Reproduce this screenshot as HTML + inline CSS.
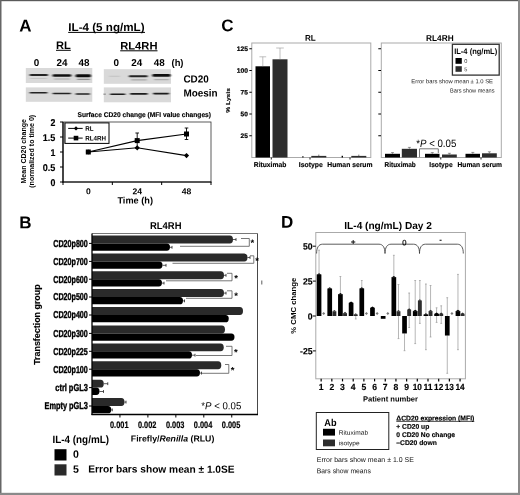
<!DOCTYPE html>
<html lang="en"><head><meta charset="utf-8"><title>Figure</title>
<style>html,body{margin:0;padding:0;background:#fff}svg{display:block}text{font-family:"Liberation Sans",Arial,Helvetica,sans-serif}</style></head>
<body>
<svg width="520" height="495" viewBox="0 0 520 495" font-family="Liberation Sans, Arial, Helvetica, sans-serif">
<defs><filter id="b1" x="-20%" y="-200%" width="140%" height="500%"><feGaussianBlur stdDeviation="0.8 0.55"/></filter><filter id="b2" x="-20%" y="-200%" width="140%" height="500%"><feGaussianBlur stdDeviation="0.7 0.5"/></filter></defs>
<rect x="0.00" y="0.00" width="520.00" height="495.00" fill="#fff"/>
<text x="19.20" y="31.60" font-size="17" font-weight="bold" transform="rotate(0.03 19.20 31.60)">A</text>
<text x="68.30" y="31.00" font-size="11.4" font-weight="bold" textLength="76.30" lengthAdjust="spacingAndGlyphs" transform="rotate(0.03 68.30 31.00)">IL-4 (5 ng/mL)</text>
<line x1="68.20" y1="32.40" x2="145.00" y2="32.40" stroke="#000" stroke-width="1"/>
<text x="56.00" y="49.10" font-size="10.8" font-weight="bold" textLength="14.80" lengthAdjust="spacingAndGlyphs" transform="rotate(0.03 56.00 49.10)">RL</text>
<line x1="56.00" y1="50.30" x2="70.80" y2="50.30" stroke="#000" stroke-width="1"/>
<text x="120.20" y="49.50" font-size="10.8" font-weight="bold" textLength="37.30" lengthAdjust="spacingAndGlyphs" transform="rotate(0.03 120.20 49.50)">RL4RH</text>
<line x1="120.20" y1="50.80" x2="157.50" y2="50.80" stroke="#000" stroke-width="1"/>
<text x="36.40" y="66.00" font-size="9.9" font-weight="bold" text-anchor="middle" transform="rotate(0.03 36.40 66.00)">0</text>
<text x="62.00" y="66.00" font-size="9.9" font-weight="bold" text-anchor="middle" transform="rotate(0.03 62.00 66.00)">24</text>
<text x="83.90" y="66.00" font-size="9.9" font-weight="bold" text-anchor="middle" transform="rotate(0.03 83.90 66.00)">48</text>
<text x="116.25" y="66.00" font-size="9.9" font-weight="bold" text-anchor="middle" transform="rotate(0.03 116.25 66.00)">0</text>
<text x="136.75" y="66.00" font-size="9.9" font-weight="bold" text-anchor="middle" transform="rotate(0.03 136.75 66.00)">24</text>
<text x="159.25" y="66.00" font-size="9.9" font-weight="bold" text-anchor="middle" transform="rotate(0.03 159.25 66.00)">48</text>
<text x="171.50" y="66.10" font-size="9.8" font-weight="bold" textLength="12.00" lengthAdjust="spacingAndGlyphs" transform="rotate(0.03 171.50 66.10)">(h)</text>
<rect x="25.80" y="68.00" width="66.50" height="15.00" fill="#d9d9d9"/>
<rect x="25.80" y="87.40" width="66.50" height="14.40" fill="#d9d9d9"/>
<rect x="103.80" y="69.20" width="67.20" height="14.60" fill="#d9d9d9"/>
<rect x="103.80" y="87.40" width="67.20" height="14.90" fill="#d9d9d9"/>
<rect x="29.50" y="74.05" width="18.50" height="1.90" rx="0.95" fill="#222" opacity="1" filter="url(#b1)"/>
<rect x="52.50" y="74.15" width="18.80" height="2.50" rx="1.25" fill="#111" opacity="1" filter="url(#b1)"/>
<rect x="75.50" y="74.20" width="15.50" height="3.00" rx="1.50" fill="#0a0a0a" opacity="1" filter="url(#b1)"/>
<rect x="54.00" y="78.40" width="16.00" height="1.20" rx="0.60" fill="#777" opacity="0.5" filter="url(#b1)"/>
<rect x="77.00" y="78.80" width="13.00" height="1.20" rx="0.60" fill="#666" opacity="0.6" filter="url(#b1)"/>
<rect x="30.00" y="78.00" width="17.00" height="1.00" rx="0.50" fill="#999" opacity="0.35" filter="url(#b1)"/>
<rect x="29.50" y="92.10" width="18.00" height="1.40" rx="0.70" fill="#222" opacity="1" filter="url(#b1)"/>
<rect x="52.50" y="92.80" width="18.50" height="1.40" rx="0.70" fill="#222" opacity="1" filter="url(#b1)"/>
<rect x="75.50" y="93.35" width="14.50" height="1.50" rx="0.75" fill="#222" opacity="1" filter="url(#b1)"/>
<rect x="109.00" y="75.80" width="11.00" height="1.00" rx="0.50" fill="#aaa" opacity="0.5" filter="url(#b1)"/>
<rect x="128.80" y="75.20" width="18.90" height="2.00" rx="1.00" fill="#222" opacity="1" filter="url(#b1)"/>
<rect x="152.30" y="74.05" width="18.30" height="2.70" rx="1.35" fill="#111" opacity="1" filter="url(#b1)"/>
<rect x="131.00" y="79.20" width="16.00" height="1.20" rx="0.60" fill="#777" opacity="0.5" filter="url(#b1)"/>
<rect x="154.00" y="79.00" width="15.00" height="1.20" rx="0.60" fill="#777" opacity="0.45" filter="url(#b1)"/>
<rect x="103.80" y="93.60" width="1.70" height="1.20" rx="0.60" fill="#333" opacity="1" filter="url(#b1)"/>
<rect x="110.00" y="93.40" width="15.40" height="1.60" rx="0.80" fill="#1a1a1a" opacity="1" filter="url(#b1)"/>
<rect x="130.00" y="93.10" width="17.70" height="1.60" rx="0.80" fill="#1a1a1a" opacity="1" filter="url(#b1)"/>
<rect x="153.00" y="92.80" width="16.20" height="1.60" rx="0.80" fill="#1a1a1a" opacity="1" filter="url(#b1)"/>
<text x="183.40" y="82.40" font-size="10.3" font-weight="bold" textLength="25.30" lengthAdjust="spacingAndGlyphs" transform="rotate(0.03 183.40 82.40)">CD20</text>
<text x="183.40" y="96.40" font-size="10.3" font-weight="bold" textLength="34.20" lengthAdjust="spacingAndGlyphs" transform="rotate(0.03 183.40 96.40)">Moesin</text>
<text x="77.50" y="117.00" font-size="6.9" font-weight="bold" textLength="133.50" lengthAdjust="spacingAndGlyphs" transform="rotate(0.03 77.50 117.00)" stroke="#000" stroke-width="0.15">Surface CD20 change (MFI value changes)</text>
<rect x="63.00" y="122.00" width="148.00" height="60.00" fill="none" stroke="#333" stroke-width="0.8"/>
<line x1="63.00" y1="122.00" x2="63.00" y2="182.50" stroke="#000" stroke-width="1.2"/>
<line x1="62.50" y1="182.00" x2="211.50" y2="182.00" stroke="#000" stroke-width="1.2"/>
<line x1="60.00" y1="122.00" x2="63.00" y2="122.00" stroke="#000" stroke-width="1"/>
<text x="55.40" y="125.90" font-size="9.9" font-weight="bold" text-anchor="end" textLength="4.90" lengthAdjust="spacingAndGlyphs" transform="rotate(0.03 55.40 125.90)" stroke="#000" stroke-width="0.15">2</text>
<line x1="60.00" y1="137.00" x2="63.00" y2="137.00" stroke="#000" stroke-width="1"/>
<text x="55.40" y="140.90" font-size="9.9" font-weight="bold" text-anchor="end" textLength="12.60" lengthAdjust="spacingAndGlyphs" transform="rotate(0.03 55.40 140.90)" stroke="#000" stroke-width="0.15">1.5</text>
<line x1="60.00" y1="152.00" x2="63.00" y2="152.00" stroke="#000" stroke-width="1"/>
<text x="55.40" y="155.90" font-size="9.9" font-weight="bold" text-anchor="end" textLength="4.90" lengthAdjust="spacingAndGlyphs" transform="rotate(0.03 55.40 155.90)" stroke="#000" stroke-width="0.15">1</text>
<line x1="60.00" y1="167.00" x2="63.00" y2="167.00" stroke="#000" stroke-width="1"/>
<text x="55.40" y="170.90" font-size="9.9" font-weight="bold" text-anchor="end" textLength="12.60" lengthAdjust="spacingAndGlyphs" transform="rotate(0.03 55.40 170.90)" stroke="#000" stroke-width="0.15">0.5</text>
<line x1="60.00" y1="182.00" x2="63.00" y2="182.00" stroke="#000" stroke-width="1"/>
<text x="55.40" y="185.90" font-size="9.9" font-weight="bold" text-anchor="end" textLength="4.90" lengthAdjust="spacingAndGlyphs" transform="rotate(0.03 55.40 185.90)" stroke="#000" stroke-width="0.15">0</text>
<line x1="63.00" y1="182.00" x2="63.00" y2="185.00" stroke="#000" stroke-width="1"/>
<line x1="112.33" y1="182.00" x2="112.33" y2="185.00" stroke="#000" stroke-width="1"/>
<line x1="161.67" y1="182.00" x2="161.67" y2="185.00" stroke="#000" stroke-width="1"/>
<line x1="211.00" y1="182.00" x2="211.00" y2="185.00" stroke="#000" stroke-width="1"/>
<polyline points="88.30,152.00 137.20,147.80 186.50,155.60" fill="none" stroke="#000" stroke-width="1.1"/>
<polyline points="88.30,152.00 137.20,140.60 186.50,134.00" fill="none" stroke="#000" stroke-width="1.1"/>
<line x1="137.20" y1="133.00" x2="137.20" y2="148.30" stroke="#000" stroke-width="0.9"/>
<line x1="135.40" y1="133.00" x2="139.00" y2="133.00" stroke="#000" stroke-width="0.9"/>
<line x1="135.40" y1="148.30" x2="139.00" y2="148.30" stroke="#000" stroke-width="0.9"/>
<line x1="186.50" y1="128.00" x2="186.50" y2="139.50" stroke="#000" stroke-width="0.9"/>
<line x1="184.70" y1="128.00" x2="188.30" y2="128.00" stroke="#000" stroke-width="0.9"/>
<line x1="184.70" y1="139.50" x2="188.30" y2="139.50" stroke="#000" stroke-width="0.9"/>
<path d="M85.70 152.00L88.30 149.40L90.90 152.00L88.30 154.60Z" fill="#000"/>
<path d="M134.60 147.80L137.20 145.20L139.80 147.80L137.20 150.40Z" fill="#000"/>
<path d="M183.90 155.60L186.50 153.00L189.10 155.60L186.50 158.20Z" fill="#000"/>
<rect x="85.80" y="149.50" width="5.00" height="5.00" fill="#000"/>
<rect x="134.70" y="138.10" width="5.00" height="5.00" fill="#000"/>
<rect x="184.00" y="131.50" width="5.00" height="5.00" fill="#000"/>
<rect x="65.00" y="122.90" width="44.00" height="20.50" fill="#fff" stroke="#000" stroke-width="1"/>
<line x1="64.00" y1="122.40" x2="64.00" y2="143.40" stroke="#444" stroke-width="1.2"/>
<line x1="68.20" y1="128.40" x2="82.70" y2="128.40" stroke="#000" stroke-width="1"/>
<path d="M73.80 128.40L76.00 126.20L78.20 128.40L76.00 130.60Z" fill="#000"/>
<text x="85.20" y="130.70" font-size="6.6" font-weight="bold" textLength="8.30" lengthAdjust="spacingAndGlyphs" transform="rotate(0.03 85.20 130.70)">RL</text>
<line x1="68.20" y1="138.10" x2="82.70" y2="138.10" stroke="#000" stroke-width="1"/>
<rect x="73.70" y="135.80" width="4.60" height="4.60" fill="#000"/>
<text x="85.20" y="140.50" font-size="6.6" font-weight="bold" textLength="20.80" lengthAdjust="spacingAndGlyphs" transform="rotate(0.03 85.20 140.50)">RL4RH</text>
<text x="88.30" y="194.20" font-size="8.6" font-weight="bold" text-anchor="middle" transform="rotate(0.03 88.30 194.20)">0</text>
<text x="137.20" y="194.20" font-size="8.6" font-weight="bold" text-anchor="middle" transform="rotate(0.03 137.20 194.20)">24</text>
<text x="186.50" y="194.20" font-size="8.6" font-weight="bold" text-anchor="middle" transform="rotate(0.03 186.50 194.20)">48</text>
<text x="135.20" y="203.60" font-size="9.2" font-weight="bold" text-anchor="middle" textLength="35.50" lengthAdjust="spacingAndGlyphs" transform="rotate(0.03 135.20 203.60)">Time (h)</text>
<text x="26.00" y="151.30" font-size="7.4" font-weight="bold" text-anchor="middle" textLength="64.40" lengthAdjust="spacingAndGlyphs" transform="rotate(-90 26.00 151.30)">Mean CD20 change</text>
<text x="33.60" y="151.30" font-size="7.2" font-weight="bold" text-anchor="middle" textLength="73.00" lengthAdjust="spacingAndGlyphs" transform="rotate(-90 33.60 151.30)">(normalized to time 0)</text>
<text x="19.30" y="228.30" font-size="17" font-weight="bold" transform="rotate(0.03 19.30 228.30)">B</text>
<text x="150.00" y="229.00" font-size="10" font-weight="bold" textLength="31.50" lengthAdjust="spacingAndGlyphs" transform="rotate(0.03 150.00 229.00)">RL4RH</text>
<line x1="92.00" y1="233.50" x2="257.50" y2="233.50" stroke="#555" stroke-width="0.8"/>
<line x1="257.50" y1="233.50" x2="257.50" y2="414.50" stroke="#333" stroke-width="0.9"/>
<path d="M92.00 235.50H229.80Q233.00 235.50 233.00 239.45Q233.00 243.40 229.80 243.40H92.00Z" fill="#2a2a2a"/>
<path d="M92.00 243.40H166.80Q170.00 243.40 170.00 247.05Q170.00 250.70 166.80 250.70H92.00Z" fill="#000"/>
<line x1="89.00" y1="243.40" x2="92.00" y2="243.40" stroke="#000" stroke-width="1"/>
<text x="87.80" y="246.90" font-size="10" font-weight="bold" text-anchor="end" textLength="34.50" lengthAdjust="spacingAndGlyphs" transform="rotate(0.03 87.80 246.90)" stroke="#000" stroke-width="0.4">CD20p800</text>
<path d="M92.00 253.50H244.30Q247.50 253.50 247.50 257.45Q247.50 261.40 244.30 261.40H92.00Z" fill="#2a2a2a"/>
<path d="M92.00 261.40H159.30Q162.50 261.40 162.50 265.05Q162.50 268.70 159.30 268.70H92.00Z" fill="#000"/>
<line x1="89.00" y1="261.40" x2="92.00" y2="261.40" stroke="#000" stroke-width="1"/>
<text x="87.80" y="264.90" font-size="10" font-weight="bold" text-anchor="end" textLength="34.50" lengthAdjust="spacingAndGlyphs" transform="rotate(0.03 87.80 264.90)" stroke="#000" stroke-width="0.4">CD20p700</text>
<path d="M92.00 271.30H220.80Q224.00 271.30 224.00 275.25Q224.00 279.20 220.80 279.20H92.00Z" fill="#2a2a2a"/>
<path d="M92.00 279.20H158.80Q162.00 279.20 162.00 282.85Q162.00 286.50 158.80 286.50H92.00Z" fill="#000"/>
<line x1="89.00" y1="279.20" x2="92.00" y2="279.20" stroke="#000" stroke-width="1"/>
<text x="87.80" y="282.70" font-size="10" font-weight="bold" text-anchor="end" textLength="34.50" lengthAdjust="spacingAndGlyphs" transform="rotate(0.03 87.80 282.70)" stroke="#000" stroke-width="0.4">CD20p600</text>
<path d="M92.00 289.10H220.80Q224.00 289.10 224.00 293.05Q224.00 297.00 220.80 297.00H92.00Z" fill="#2a2a2a"/>
<path d="M92.00 297.00H179.80Q183.00 297.00 183.00 300.65Q183.00 304.30 179.80 304.30H92.00Z" fill="#000"/>
<line x1="89.00" y1="297.00" x2="92.00" y2="297.00" stroke="#000" stroke-width="1"/>
<text x="87.80" y="300.50" font-size="10" font-weight="bold" text-anchor="end" textLength="34.50" lengthAdjust="spacingAndGlyphs" transform="rotate(0.03 87.80 300.50)" stroke="#000" stroke-width="0.4">CD20p500</text>
<path d="M92.00 307.10H239.80Q243.00 307.10 243.00 311.05Q243.00 315.00 239.80 315.00H92.00Z" fill="#2a2a2a"/>
<path d="M92.00 315.00H225.55Q228.75 315.00 228.75 318.65Q228.75 322.30 225.55 322.30H92.00Z" fill="#000"/>
<line x1="89.00" y1="315.00" x2="92.00" y2="315.00" stroke="#000" stroke-width="1"/>
<text x="87.80" y="318.50" font-size="10" font-weight="bold" text-anchor="end" textLength="34.50" lengthAdjust="spacingAndGlyphs" transform="rotate(0.03 87.80 318.50)" stroke="#000" stroke-width="0.4">CD20p400</text>
<path d="M92.00 325.50H221.80Q225.00 325.50 225.00 329.45Q225.00 333.40 221.80 333.40H92.00Z" fill="#2a2a2a"/>
<path d="M92.00 333.40H231.30Q234.50 333.40 234.50 337.05Q234.50 340.70 231.30 340.70H92.00Z" fill="#000"/>
<line x1="89.00" y1="333.40" x2="92.00" y2="333.40" stroke="#000" stroke-width="1"/>
<text x="87.80" y="336.90" font-size="10" font-weight="bold" text-anchor="end" textLength="34.50" lengthAdjust="spacingAndGlyphs" transform="rotate(0.03 87.80 336.90)" stroke="#000" stroke-width="0.4">CD20p300</text>
<path d="M92.00 343.40H220.55Q223.75 343.40 223.75 347.35Q223.75 351.30 220.55 351.30H92.00Z" fill="#2a2a2a"/>
<path d="M92.00 351.30H188.80Q192.00 351.30 192.00 354.95Q192.00 358.60 188.80 358.60H92.00Z" fill="#000"/>
<line x1="89.00" y1="351.30" x2="92.00" y2="351.30" stroke="#000" stroke-width="1"/>
<text x="87.80" y="354.80" font-size="10" font-weight="bold" text-anchor="end" textLength="34.50" lengthAdjust="spacingAndGlyphs" transform="rotate(0.03 87.80 354.80)" stroke="#000" stroke-width="0.4">CD20p225</text>
<path d="M92.00 361.30H218.05Q221.25 361.30 221.25 365.25Q221.25 369.20 218.05 369.20H92.00Z" fill="#2a2a2a"/>
<path d="M92.00 369.20H196.80Q200.00 369.20 200.00 372.85Q200.00 376.50 196.80 376.50H92.00Z" fill="#000"/>
<line x1="89.00" y1="369.20" x2="92.00" y2="369.20" stroke="#000" stroke-width="1"/>
<text x="87.80" y="372.70" font-size="10" font-weight="bold" text-anchor="end" textLength="34.50" lengthAdjust="spacingAndGlyphs" transform="rotate(0.03 87.80 372.70)" stroke="#000" stroke-width="0.4">CD20p100</text>
<path d="M92.00 379.70H100.55Q103.75 379.70 103.75 383.65Q103.75 387.60 100.55 387.60H92.00Z" fill="#2a2a2a"/>
<path d="M92.00 387.60H96.30Q99.50 387.60 99.50 391.25Q99.50 394.90 96.30 394.90H92.00Z" fill="#000"/>
<line x1="89.00" y1="387.60" x2="92.00" y2="387.60" stroke="#000" stroke-width="1"/>
<text x="87.80" y="391.10" font-size="10" font-weight="bold" text-anchor="end" textLength="32.50" lengthAdjust="spacingAndGlyphs" transform="rotate(0.03 87.80 391.10)" stroke="#000" stroke-width="0.4">ctrl pGL3</text>
<path d="M92.00 398.10H121.30Q124.50 398.10 124.50 402.05Q124.50 406.00 121.30 406.00H92.00Z" fill="#2a2a2a"/>
<path d="M92.00 406.00H108.05Q111.25 406.00 111.25 409.65Q111.25 413.30 108.05 413.30H92.00Z" fill="#000"/>
<line x1="89.00" y1="406.00" x2="92.00" y2="406.00" stroke="#000" stroke-width="1"/>
<text x="87.80" y="409.50" font-size="10" font-weight="bold" text-anchor="end" textLength="43.30" lengthAdjust="spacingAndGlyphs" transform="rotate(0.03 87.80 409.50)" stroke="#000" stroke-width="0.4">Empty pGL3</text>
<line x1="233.00" y1="239.50" x2="236.00" y2="239.50" stroke="#333" stroke-width="0.8"/>
<line x1="236.00" y1="238.10" x2="236.00" y2="240.90" stroke="#333" stroke-width="0.9"/>
<line x1="170.00" y1="247.30" x2="172.00" y2="247.30" stroke="#333" stroke-width="0.8"/>
<line x1="172.00" y1="245.90" x2="172.00" y2="248.70" stroke="#333" stroke-width="0.9"/>
<line x1="247.50" y1="257.50" x2="250.00" y2="257.50" stroke="#333" stroke-width="0.8"/>
<line x1="250.00" y1="256.10" x2="250.00" y2="258.90" stroke="#333" stroke-width="0.9"/>
<line x1="162.50" y1="265.30" x2="166.00" y2="265.30" stroke="#333" stroke-width="0.8"/>
<line x1="166.00" y1="263.90" x2="166.00" y2="266.70" stroke="#333" stroke-width="0.9"/>
<line x1="224.00" y1="275.30" x2="226.00" y2="275.30" stroke="#333" stroke-width="0.8"/>
<line x1="226.00" y1="273.90" x2="226.00" y2="276.70" stroke="#333" stroke-width="0.9"/>
<line x1="162.00" y1="283.10" x2="164.00" y2="283.10" stroke="#333" stroke-width="0.8"/>
<line x1="164.00" y1="281.70" x2="164.00" y2="284.50" stroke="#333" stroke-width="0.9"/>
<line x1="224.00" y1="293.10" x2="226.00" y2="293.10" stroke="#333" stroke-width="0.8"/>
<line x1="226.00" y1="291.70" x2="226.00" y2="294.50" stroke="#333" stroke-width="0.9"/>
<line x1="183.00" y1="300.90" x2="184.50" y2="300.90" stroke="#333" stroke-width="0.8"/>
<line x1="184.50" y1="299.50" x2="184.50" y2="302.30" stroke="#333" stroke-width="0.9"/>
<line x1="192.00" y1="355.20" x2="195.00" y2="355.20" stroke="#333" stroke-width="0.8"/>
<line x1="195.00" y1="353.80" x2="195.00" y2="356.60" stroke="#333" stroke-width="0.9"/>
<line x1="200.00" y1="373.10" x2="201.50" y2="373.10" stroke="#333" stroke-width="0.8"/>
<line x1="201.50" y1="371.70" x2="201.50" y2="374.50" stroke="#333" stroke-width="0.9"/>
<line x1="103.75" y1="383.70" x2="107.75" y2="383.70" stroke="#333" stroke-width="0.8"/>
<line x1="107.75" y1="382.30" x2="107.75" y2="385.10" stroke="#333" stroke-width="0.9"/>
<line x1="99.50" y1="391.50" x2="103.50" y2="391.50" stroke="#333" stroke-width="0.8"/>
<line x1="103.50" y1="390.10" x2="103.50" y2="392.90" stroke="#333" stroke-width="0.9"/>
<line x1="124.50" y1="402.10" x2="126.00" y2="402.10" stroke="#333" stroke-width="0.8"/>
<line x1="126.00" y1="400.70" x2="126.00" y2="403.50" stroke="#333" stroke-width="0.9"/>
<line x1="111.25" y1="409.90" x2="112.25" y2="409.90" stroke="#333" stroke-width="0.8"/>
<line x1="112.25" y1="408.50" x2="112.25" y2="411.30" stroke="#333" stroke-width="0.9"/>
<path d="M241.00 238.50H249.30V246.30H180.00" fill="none" stroke="#555" stroke-width="0.8"/>
<text x="252.30" y="246.00" font-size="9.5" font-weight="bold" text-anchor="middle" transform="rotate(0.03 252.30 246.00)">*</text>
<path d="M250.00 255.80H253.80V263.30H172.50" fill="none" stroke="#555" stroke-width="0.8"/>
<text x="257.00" y="264.00" font-size="9.5" font-weight="bold" text-anchor="middle" transform="rotate(0.03 257.00 264.00)">*</text>
<path d="M227.00 273.30H232.00V280.80H166.00" fill="none" stroke="#555" stroke-width="0.8"/>
<text x="236.00" y="281.50" font-size="9.5" font-weight="bold" text-anchor="middle" transform="rotate(0.03 236.00 281.50)">*</text>
<path d="M227.00 290.80H232.00V298.30H186.00" fill="none" stroke="#555" stroke-width="0.8"/>
<text x="236.00" y="299.00" font-size="9.5" font-weight="bold" text-anchor="middle" transform="rotate(0.03 236.00 299.00)">*</text>
<path d="M226.00 346.30H232.00V355.50H196.00" fill="none" stroke="#555" stroke-width="0.8"/>
<text x="235.80" y="355.50" font-size="9.5" font-weight="bold" text-anchor="middle" transform="rotate(0.03 235.80 355.50)">*</text>
<path d="M225.00 364.50H228.80V373.30H202.00" fill="none" stroke="#555" stroke-width="0.8"/>
<text x="232.50" y="373.50" font-size="9.5" font-weight="bold" text-anchor="middle" transform="rotate(0.03 232.50 373.50)">*</text>
<line x1="261.80" y1="280.50" x2="261.80" y2="284.50" stroke="#333" stroke-width="0.8"/>
<line x1="92.00" y1="233.50" x2="92.00" y2="415.00" stroke="#000" stroke-width="1.3"/>
<line x1="91.50" y1="414.50" x2="258.00" y2="414.50" stroke="#000" stroke-width="1.3"/>
<line x1="119.95" y1="414.50" x2="119.95" y2="417.50" stroke="#000" stroke-width="1"/>
<text x="119.25" y="428.00" font-size="9.4" font-weight="bold" text-anchor="middle" textLength="18.50" lengthAdjust="spacingAndGlyphs" transform="rotate(0.03 119.25 428.00)" stroke="#000" stroke-width="0.2">0.001</text>
<line x1="147.90" y1="414.50" x2="147.90" y2="417.50" stroke="#000" stroke-width="1"/>
<text x="147.20" y="428.00" font-size="9.4" font-weight="bold" text-anchor="middle" textLength="18.50" lengthAdjust="spacingAndGlyphs" transform="rotate(0.03 147.20 428.00)" stroke="#000" stroke-width="0.2">0.002</text>
<line x1="175.85" y1="414.50" x2="175.85" y2="417.50" stroke="#000" stroke-width="1"/>
<text x="175.15" y="428.00" font-size="9.4" font-weight="bold" text-anchor="middle" textLength="18.50" lengthAdjust="spacingAndGlyphs" transform="rotate(0.03 175.15 428.00)" stroke="#000" stroke-width="0.2">0.003</text>
<line x1="203.80" y1="414.50" x2="203.80" y2="417.50" stroke="#000" stroke-width="1"/>
<text x="203.10" y="428.00" font-size="9.4" font-weight="bold" text-anchor="middle" textLength="18.50" lengthAdjust="spacingAndGlyphs" transform="rotate(0.03 203.10 428.00)" stroke="#000" stroke-width="0.2">0.004</text>
<line x1="231.75" y1="414.50" x2="231.75" y2="417.50" stroke="#000" stroke-width="1"/>
<text x="231.05" y="428.00" font-size="9.4" font-weight="bold" text-anchor="middle" textLength="18.50" lengthAdjust="spacingAndGlyphs" transform="rotate(0.03 231.05 428.00)" stroke="#000" stroke-width="0.2">0.005</text>
<text x="201.30" y="409.30" font-size="10.2" textLength="40.00" lengthAdjust="spacingAndGlyphs" transform="rotate(0.03 201.30 409.30)">*<tspan font-style="italic">P</tspan> &lt; 0.05</text>
<text x="130.80" y="441.50" font-size="8.6" font-weight="bold" textLength="83.50" lengthAdjust="spacingAndGlyphs" transform="rotate(0.03 130.80 441.50)">Firefly/<tspan font-style="italic">Renilla</tspan> (RLU)</text>
<text x="40.30" y="324.60" font-size="9.4" font-weight="bold" text-anchor="middle" textLength="80.50" lengthAdjust="spacingAndGlyphs" transform="rotate(-90 40.30 324.60)" stroke="#000" stroke-width="0.15">Transfection group</text>
<text x="52.50" y="443.20" font-size="10.6" font-weight="bold" textLength="56.50" lengthAdjust="spacingAndGlyphs" transform="rotate(0.03 52.50 443.20)">IL-4 (ng/mL)</text>
<rect x="54.50" y="449.20" width="12.00" height="11.30" fill="#000"/>
<rect x="54.50" y="464.30" width="12.00" height="11.20" fill="#2a2a2a"/>
<text x="73.00" y="457.80" font-size="10.6" font-weight="bold" transform="rotate(0.03 73.00 457.80)">0</text>
<text x="73.00" y="472.70" font-size="10.6" font-weight="bold" transform="rotate(0.03 73.00 472.70)">5</text>
<text x="88.30" y="472.60" font-size="10.3" font-weight="bold" textLength="146.30" lengthAdjust="spacingAndGlyphs" transform="rotate(0.03 88.30 472.60)">Error bars show mean ± 1.0SE</text>
<text x="221.20" y="31.30" font-size="17" font-weight="bold" transform="rotate(0.03 221.20 31.30)">C</text>
<text x="304.90" y="40.80" font-size="8.4" font-weight="bold" textLength="10.80" lengthAdjust="spacingAndGlyphs" transform="rotate(0.03 304.90 40.80)">RL</text>
<text x="426.10" y="40.90" font-size="8.5" font-weight="bold" textLength="27.50" lengthAdjust="spacingAndGlyphs" transform="rotate(0.03 426.10 40.90)">RL4RH</text>
<rect x="251.80" y="43.00" width="119.00" height="114.50" fill="none" stroke="#aaa" stroke-width="1"/>
<rect x="381.30" y="43.00" width="120.00" height="114.50" fill="none" stroke="#aaa" stroke-width="1"/>
<line x1="249.30" y1="135.75" x2="251.80" y2="135.75" stroke="#000" stroke-width="1"/>
<line x1="378.30" y1="135.75" x2="381.00" y2="135.75" stroke="#000" stroke-width="1"/>
<text x="247.90" y="138.05" font-size="6.4" font-weight="bold" text-anchor="end" textLength="7.30" lengthAdjust="spacingAndGlyphs" transform="rotate(0.03 247.90 138.05)" stroke="#000" stroke-width="0.2">25</text>
<line x1="249.30" y1="114.00" x2="251.80" y2="114.00" stroke="#000" stroke-width="1"/>
<line x1="378.30" y1="114.00" x2="381.00" y2="114.00" stroke="#000" stroke-width="1"/>
<text x="247.90" y="116.30" font-size="6.4" font-weight="bold" text-anchor="end" textLength="7.30" lengthAdjust="spacingAndGlyphs" transform="rotate(0.03 247.90 116.30)" stroke="#000" stroke-width="0.2">50</text>
<line x1="249.30" y1="92.25" x2="251.80" y2="92.25" stroke="#000" stroke-width="1"/>
<line x1="378.30" y1="92.25" x2="381.00" y2="92.25" stroke="#000" stroke-width="1"/>
<text x="247.90" y="94.55" font-size="6.4" font-weight="bold" text-anchor="end" textLength="7.30" lengthAdjust="spacingAndGlyphs" transform="rotate(0.03 247.90 94.55)" stroke="#000" stroke-width="0.2">75</text>
<line x1="249.30" y1="70.50" x2="251.80" y2="70.50" stroke="#000" stroke-width="1"/>
<line x1="378.30" y1="70.50" x2="381.00" y2="70.50" stroke="#000" stroke-width="1"/>
<text x="247.90" y="72.80" font-size="6.4" font-weight="bold" text-anchor="end" textLength="11.20" lengthAdjust="spacingAndGlyphs" transform="rotate(0.03 247.90 72.80)" stroke="#000" stroke-width="0.2">100</text>
<line x1="249.30" y1="48.75" x2="251.80" y2="48.75" stroke="#000" stroke-width="1"/>
<line x1="378.30" y1="48.75" x2="381.00" y2="48.75" stroke="#000" stroke-width="1"/>
<text x="247.90" y="51.05" font-size="6.4" font-weight="bold" text-anchor="end" textLength="11.20" lengthAdjust="spacingAndGlyphs" transform="rotate(0.03 247.90 51.05)" stroke="#000" stroke-width="0.2">125</text>
<text x="230.30" y="100.40" font-size="6.2" font-weight="bold" text-anchor="middle" textLength="24.50" lengthAdjust="spacingAndGlyphs" transform="rotate(-90 230.30 100.40)" stroke="#000" stroke-width="0.15">% Lysis</text>
<rect x="255.50" y="66.30" width="14.50" height="91.20" fill="#000"/>
<line x1="262.80" y1="56.80" x2="262.80" y2="66.30" stroke="#8c8c8c" stroke-width="0.55"/>
<line x1="259.40" y1="56.80" x2="266.20" y2="56.80" stroke="#8c8c8c" stroke-width="0.55"/>
<rect x="272.50" y="59.30" width="15.00" height="98.20" fill="#2d2d2d"/>
<line x1="280.00" y1="48.00" x2="280.00" y2="59.30" stroke="#8c8c8c" stroke-width="0.55"/>
<line x1="276.20" y1="48.00" x2="283.80" y2="48.00" stroke="#8c8c8c" stroke-width="0.55"/>
<rect x="302.30" y="156.20" width="1.20" height="1.30" fill="#000"/>
<rect x="311.30" y="155.90" width="15.00" height="1.60" fill="#2d2d2d"/>
<rect x="341.60" y="155.80" width="1.40" height="1.70" fill="#000"/>
<rect x="351.30" y="155.90" width="15.00" height="1.60" fill="#2d2d2d"/>
<line x1="318.80" y1="154.60" x2="318.80" y2="156.00" stroke="#444" stroke-width="0.7"/>
<line x1="358.80" y1="154.60" x2="358.80" y2="156.00" stroke="#444" stroke-width="0.7"/>
<line x1="271.30" y1="157.50" x2="271.30" y2="159.50" stroke="#000" stroke-width="0.9"/>
<line x1="310.00" y1="157.50" x2="310.00" y2="159.50" stroke="#000" stroke-width="0.9"/>
<line x1="350.00" y1="157.50" x2="350.00" y2="159.50" stroke="#000" stroke-width="0.9"/>
<rect x="385.00" y="153.80" width="15.00" height="3.70" fill="#000"/>
<line x1="392.50" y1="152.60" x2="392.50" y2="153.80" stroke="#444" stroke-width="0.55"/>
<line x1="391.00" y1="152.60" x2="394.00" y2="152.60" stroke="#444" stroke-width="0.55"/>
<rect x="401.80" y="148.80" width="15.20" height="8.70" fill="#2d2d2d"/>
<line x1="409.40" y1="147.40" x2="409.40" y2="148.80" stroke="#444" stroke-width="0.55"/>
<line x1="407.90" y1="147.40" x2="410.90" y2="147.40" stroke="#444" stroke-width="0.55"/>
<rect x="425.00" y="153.80" width="14.50" height="3.70" fill="#000"/>
<line x1="432.30" y1="152.60" x2="432.30" y2="153.80" stroke="#444" stroke-width="0.55"/>
<line x1="430.80" y1="152.60" x2="433.80" y2="152.60" stroke="#444" stroke-width="0.55"/>
<rect x="442.00" y="154.50" width="14.80" height="3.00" fill="#2d2d2d"/>
<line x1="449.40" y1="153.30" x2="449.40" y2="154.50" stroke="#444" stroke-width="0.55"/>
<line x1="447.90" y1="153.30" x2="450.90" y2="153.30" stroke="#444" stroke-width="0.55"/>
<rect x="465.50" y="153.80" width="14.50" height="3.70" fill="#000"/>
<line x1="472.80" y1="152.40" x2="472.80" y2="153.80" stroke="#444" stroke-width="0.55"/>
<line x1="471.30" y1="152.40" x2="474.30" y2="152.40" stroke="#444" stroke-width="0.55"/>
<rect x="482.00" y="153.30" width="14.80" height="4.20" fill="#2d2d2d"/>
<line x1="489.40" y1="151.80" x2="489.40" y2="153.30" stroke="#444" stroke-width="0.55"/>
<line x1="487.90" y1="151.80" x2="490.90" y2="151.80" stroke="#444" stroke-width="0.55"/>
<line x1="440.80" y1="157.50" x2="440.80" y2="159.50" stroke="#000" stroke-width="0.9"/>
<line x1="481.00" y1="157.50" x2="481.00" y2="159.50" stroke="#000" stroke-width="0.9"/>
<path d="M419.5 157.2V148.8H438.3V153" fill="none" stroke="#555" stroke-width="0.8"/>
<text x="416.30" y="147.30" font-size="10.6" textLength="40.00" lengthAdjust="spacingAndGlyphs" transform="rotate(0.03 416.30 147.30)">*<tspan font-style="italic">P</tspan> &lt; 0.05</text>
<text x="253.80" y="166.90" font-size="7.1" font-weight="bold" textLength="32.50" lengthAdjust="spacingAndGlyphs" transform="rotate(0.03 253.80 166.90)" stroke="#000" stroke-width="0.15">Rituximab</text>
<text x="298.80" y="166.90" font-size="7.1" font-weight="bold" textLength="24.00" lengthAdjust="spacingAndGlyphs" transform="rotate(0.03 298.80 166.90)" stroke="#000" stroke-width="0.15">Isotype</text>
<text x="327.30" y="166.90" font-size="7.1" font-weight="bold" textLength="45.20" lengthAdjust="spacingAndGlyphs" transform="rotate(0.03 327.30 166.90)" stroke="#000" stroke-width="0.15">Human serum</text>
<text x="384.50" y="166.90" font-size="7.1" font-weight="bold" textLength="31.30" lengthAdjust="spacingAndGlyphs" transform="rotate(0.03 384.50 166.90)" stroke="#000" stroke-width="0.15">Rituximab</text>
<text x="429.30" y="166.90" font-size="7.1" font-weight="bold" textLength="23.30" lengthAdjust="spacingAndGlyphs" transform="rotate(0.03 429.30 166.90)" stroke="#000" stroke-width="0.15">Isotype</text>
<text x="457.50" y="166.90" font-size="7.1" font-weight="bold" textLength="44.50" lengthAdjust="spacingAndGlyphs" transform="rotate(0.03 457.50 166.90)" stroke="#000" stroke-width="0.15">Human serum</text>
<rect x="452.40" y="44.30" width="46.80" height="30.80" fill="#fff" stroke="#333" stroke-width="1.3"/>
<text x="454.20" y="54.00" font-size="8.1" font-weight="bold" textLength="43.00" lengthAdjust="spacingAndGlyphs" transform="rotate(0.03 454.20 54.00)">IL-4 (ng/mL)</text>
<rect x="455.50" y="58.00" width="6.30" height="5.80" fill="#000"/>
<rect x="455.50" y="66.20" width="6.30" height="5.60" fill="#2d2d2d"/>
<text x="464.30" y="63.00" font-size="5.6" transform="rotate(0.03 464.30 63.00)" fill="#333">0</text>
<text x="464.30" y="71.20" font-size="5.6" transform="rotate(0.03 464.30 71.20)" fill="#333">5</text>
<text x="411.30" y="83.30" font-size="5.9" textLength="81.70" lengthAdjust="spacingAndGlyphs" transform="rotate(0.03 411.30 83.30)" fill="#222">Error bars show mean ± 1.0 SE</text>
<text x="450.00" y="92.60" font-size="5.9" textLength="44.50" lengthAdjust="spacingAndGlyphs" transform="rotate(0.03 450.00 92.60)" fill="#222">Bars show means</text>
<text x="281.00" y="227.70" font-size="17" font-weight="bold" transform="rotate(0.03 281.00 227.70)">D</text>
<text x="344.30" y="229.00" font-size="10.2" font-weight="bold" textLength="87.60" lengthAdjust="spacingAndGlyphs" transform="rotate(0.03 344.30 229.00)">IL-4 (ng/mL) Day 2</text>
<rect x="315.80" y="232.50" width="149.60" height="146.30" fill="none" stroke="#aaa" stroke-width="1"/>
<line x1="312.80" y1="246.20" x2="315.80" y2="246.20" stroke="#000" stroke-width="1"/>
<text x="312.60" y="249.60" font-size="9" font-weight="bold" text-anchor="end" textLength="9.60" lengthAdjust="spacingAndGlyphs" transform="rotate(0.03 312.60 249.60)" stroke="#000" stroke-width="0.15">50</text>
<line x1="312.80" y1="281.10" x2="315.80" y2="281.10" stroke="#000" stroke-width="1"/>
<text x="312.60" y="284.50" font-size="9" font-weight="bold" text-anchor="end" textLength="9.60" lengthAdjust="spacingAndGlyphs" transform="rotate(0.03 312.60 284.50)" stroke="#000" stroke-width="0.15">25</text>
<line x1="312.80" y1="316.00" x2="315.80" y2="316.00" stroke="#000" stroke-width="1"/>
<text x="312.60" y="319.40" font-size="9" font-weight="bold" text-anchor="end" textLength="4.80" lengthAdjust="spacingAndGlyphs" transform="rotate(0.03 312.60 319.40)" stroke="#000" stroke-width="0.15">0</text>
<line x1="312.80" y1="350.90" x2="315.80" y2="350.90" stroke="#000" stroke-width="1"/>
<text x="312.60" y="354.30" font-size="9" font-weight="bold" text-anchor="end" textLength="12.60" lengthAdjust="spacingAndGlyphs" transform="rotate(0.03 312.60 354.30)" stroke="#000" stroke-width="0.15">-25</text>
<text x="295.60" y="305.70" font-size="7.9" font-weight="bold" text-anchor="middle" textLength="56.00" lengthAdjust="spacingAndGlyphs" transform="rotate(-90 295.60 305.70)">% CMC change</text>
<path d="M316.60 253.50C316.60 247.70 318.60 244.20 322.60 244.20H379.00C383.00 244.20 385.00 247.70 385.00 253.50" fill="none" stroke="#333" stroke-width="0.8"/>
<path d="M385.00 253.50C385.00 247.70 387.00 244.20 391.00 244.20H413.50C417.50 244.20 419.50 247.70 419.50 253.50" fill="none" stroke="#333" stroke-width="0.8"/>
<path d="M419.50 253.50C419.50 247.70 421.50 244.20 425.50 244.20H457.30C461.30 244.20 463.30 247.70 463.30 253.50" fill="none" stroke="#333" stroke-width="0.8"/>
<text x="353.30" y="244.80" font-size="8.3" font-weight="bold" text-anchor="middle" transform="rotate(0.03 353.30 244.80)">+</text>
<text x="404.30" y="245.20" font-size="7.6" text-anchor="middle" transform="rotate(0.03 404.30 245.20)" stroke="#000" stroke-width="0.2">0</text>
<text x="440.50" y="242.20" font-size="8" font-weight="bold" text-anchor="middle" transform="rotate(0.03 440.50 242.20)">-</text>
<line x1="319.04" y1="250.20" x2="319.04" y2="274.54" stroke="#969696" stroke-width="0.7"/>
<line x1="318.14" y1="250.20" x2="319.94" y2="250.20" stroke="#969696" stroke-width="0.7"/>
<rect x="316.69" y="274.54" width="4.70" height="41.46" fill="#000"/>
<path d="M316.69 274.74L319.04 273.24L321.39 274.74Z" fill="#000"/>
<path d="M322.19 313.60L323.69 312.10L325.19 313.60L323.69 315.10Z" fill="#777"/>
<line x1="321.14" y1="378.80" x2="321.14" y2="381.40" stroke="#000" stroke-width="1.2"/>
<text x="321.14" y="389.90" font-size="8.9" font-weight="bold" text-anchor="middle" textLength="4.80" lengthAdjust="spacingAndGlyphs" transform="rotate(0.03 321.14 389.90)" stroke="#000" stroke-width="0.15">1</text>
<rect x="327.38" y="288.64" width="4.70" height="27.36" fill="#000"/>
<path d="M327.38 288.84L329.73 287.34L332.08 288.84Z" fill="#000"/>
<rect x="332.43" y="311.39" width="3.90" height="4.61" fill="#2d2d2d"/>
<path d="M332.43 311.59L334.38 309.99L336.33 311.59Z" fill="#2d2d2d"/>
<line x1="331.83" y1="378.80" x2="331.83" y2="381.40" stroke="#000" stroke-width="1.2"/>
<text x="331.83" y="389.90" font-size="8.9" font-weight="bold" text-anchor="middle" textLength="4.80" lengthAdjust="spacingAndGlyphs" transform="rotate(0.03 331.83 389.90)" stroke="#000" stroke-width="0.15">2</text>
<line x1="340.41" y1="276.50" x2="340.41" y2="294.22" stroke="#969696" stroke-width="0.7"/>
<line x1="339.51" y1="276.50" x2="341.31" y2="276.50" stroke="#969696" stroke-width="0.7"/>
<rect x="338.06" y="294.22" width="4.70" height="21.78" fill="#000"/>
<path d="M338.06 294.42L340.41 292.92L342.76 294.42Z" fill="#000"/>
<rect x="343.11" y="313.21" width="3.90" height="2.79" fill="#2d2d2d"/>
<path d="M343.11 313.41L345.06 311.81L347.01 313.41Z" fill="#2d2d2d"/>
<line x1="342.51" y1="378.80" x2="342.51" y2="381.40" stroke="#000" stroke-width="1.2"/>
<text x="342.51" y="389.90" font-size="8.9" font-weight="bold" text-anchor="middle" textLength="4.80" lengthAdjust="spacingAndGlyphs" transform="rotate(0.03 342.51 389.90)" stroke="#000" stroke-width="0.15">3</text>
<line x1="355.75" y1="316.00" x2="355.75" y2="319.00" stroke="#969696" stroke-width="0.7"/>
<line x1="354.85" y1="319.00" x2="356.65" y2="319.00" stroke="#969696" stroke-width="0.7"/>
<rect x="348.75" y="302.88" width="4.70" height="13.12" fill="#000"/>
<path d="M348.75 303.08L351.10 301.58L353.45 303.08Z" fill="#000"/>
<rect x="353.80" y="314.60" width="3.90" height="1.40" fill="#2d2d2d"/>
<path d="M353.80 314.80L355.75 313.20L357.70 314.80Z" fill="#2d2d2d"/>
<line x1="353.20" y1="378.80" x2="353.20" y2="381.40" stroke="#000" stroke-width="1.2"/>
<text x="353.20" y="389.90" font-size="8.9" font-weight="bold" text-anchor="middle" textLength="4.80" lengthAdjust="spacingAndGlyphs" transform="rotate(0.03 353.20 389.90)" stroke="#000" stroke-width="0.15">4</text>
<line x1="361.79" y1="280.50" x2="361.79" y2="288.50" stroke="#969696" stroke-width="0.7"/>
<line x1="360.89" y1="280.50" x2="362.69" y2="280.50" stroke="#969696" stroke-width="0.7"/>
<rect x="359.44" y="288.50" width="4.70" height="27.50" fill="#000"/>
<path d="M359.44 288.70L361.79 287.20L364.14 288.70Z" fill="#000"/>
<path d="M364.94 313.60L366.44 312.10L367.94 313.60L366.44 315.10Z" fill="#777"/>
<line x1="363.89" y1="378.80" x2="363.89" y2="381.40" stroke="#000" stroke-width="1.2"/>
<text x="363.89" y="389.90" font-size="8.9" font-weight="bold" text-anchor="middle" textLength="4.80" lengthAdjust="spacingAndGlyphs" transform="rotate(0.03 363.89 389.90)" stroke="#000" stroke-width="0.15">5</text>
<rect x="370.12" y="307.90" width="4.70" height="8.10" fill="#000"/>
<path d="M370.12 308.10L372.47 306.60L374.82 308.10Z" fill="#000"/>
<path d="M375.62 313.60L377.12 312.10L378.62 313.60L377.12 315.10Z" fill="#777"/>
<line x1="374.57" y1="378.80" x2="374.57" y2="381.40" stroke="#000" stroke-width="1.2"/>
<text x="374.57" y="389.90" font-size="8.9" font-weight="bold" text-anchor="middle" textLength="4.80" lengthAdjust="spacingAndGlyphs" transform="rotate(0.03 374.57 389.90)" stroke="#000" stroke-width="0.15">6</text>
<rect x="380.81" y="316.00" width="4.70" height="2.79" fill="#000"/>
<path d="M386.31 313.60L387.81 312.10L389.31 313.60L387.81 315.10Z" fill="#777"/>
<line x1="385.26" y1="378.80" x2="385.26" y2="381.40" stroke="#000" stroke-width="1.2"/>
<text x="385.26" y="389.90" font-size="8.9" font-weight="bold" text-anchor="middle" textLength="4.80" lengthAdjust="spacingAndGlyphs" transform="rotate(0.03 385.26 389.90)" stroke="#000" stroke-width="0.15">7</text>
<line x1="393.84" y1="255.30" x2="393.84" y2="277.19" stroke="#969696" stroke-width="0.7"/>
<line x1="392.94" y1="255.30" x2="394.74" y2="255.30" stroke="#969696" stroke-width="0.7"/>
<line x1="398.49" y1="284.50" x2="398.49" y2="311.39" stroke="#969696" stroke-width="0.7"/>
<line x1="397.59" y1="284.50" x2="399.39" y2="284.50" stroke="#969696" stroke-width="0.7"/>
<line x1="398.49" y1="316.00" x2="398.49" y2="338.60" stroke="#969696" stroke-width="0.7"/>
<line x1="397.59" y1="338.60" x2="399.39" y2="338.60" stroke="#969696" stroke-width="0.7"/>
<rect x="391.49" y="277.19" width="4.70" height="38.81" fill="#000"/>
<path d="M391.49 277.39L393.84 275.89L396.19 277.39Z" fill="#000"/>
<rect x="396.54" y="311.39" width="3.90" height="4.61" fill="#2d2d2d"/>
<path d="M396.54 311.59L398.49 309.99L400.44 311.59Z" fill="#2d2d2d"/>
<line x1="395.94" y1="378.80" x2="395.94" y2="381.40" stroke="#000" stroke-width="1.2"/>
<text x="395.94" y="389.90" font-size="8.9" font-weight="bold" text-anchor="middle" textLength="4.80" lengthAdjust="spacingAndGlyphs" transform="rotate(0.03 395.94 389.90)" stroke="#000" stroke-width="0.15">8</text>
<line x1="404.53" y1="333.45" x2="404.53" y2="350.70" stroke="#969696" stroke-width="0.7"/>
<line x1="403.63" y1="350.70" x2="405.43" y2="350.70" stroke="#969696" stroke-width="0.7"/>
<line x1="409.18" y1="293.00" x2="409.18" y2="309.72" stroke="#969696" stroke-width="0.7"/>
<line x1="408.28" y1="293.00" x2="410.08" y2="293.00" stroke="#969696" stroke-width="0.7"/>
<line x1="409.18" y1="316.00" x2="409.18" y2="327.50" stroke="#969696" stroke-width="0.7"/>
<line x1="408.28" y1="327.50" x2="410.08" y2="327.50" stroke="#969696" stroke-width="0.7"/>
<rect x="402.18" y="316.00" width="4.70" height="17.45" fill="#000"/>
<rect x="407.23" y="309.72" width="3.90" height="6.28" fill="#2d2d2d"/>
<path d="M407.23 309.92L409.18 308.32L411.13 309.92Z" fill="#2d2d2d"/>
<line x1="406.63" y1="378.80" x2="406.63" y2="381.40" stroke="#000" stroke-width="1.2"/>
<text x="406.63" y="389.90" font-size="8.9" font-weight="bold" text-anchor="middle" textLength="4.80" lengthAdjust="spacingAndGlyphs" transform="rotate(0.03 406.63 389.90)" stroke="#000" stroke-width="0.15">9</text>
<line x1="415.21" y1="280.50" x2="415.21" y2="311.11" stroke="#969696" stroke-width="0.7"/>
<line x1="414.31" y1="280.50" x2="416.11" y2="280.50" stroke="#969696" stroke-width="0.7"/>
<line x1="415.21" y1="316.00" x2="415.21" y2="343.60" stroke="#969696" stroke-width="0.7"/>
<line x1="414.31" y1="343.60" x2="416.11" y2="343.60" stroke="#969696" stroke-width="0.7"/>
<line x1="419.86" y1="280.50" x2="419.86" y2="300.64" stroke="#969696" stroke-width="0.7"/>
<line x1="418.96" y1="280.50" x2="420.76" y2="280.50" stroke="#969696" stroke-width="0.7"/>
<line x1="419.86" y1="316.00" x2="419.86" y2="323.40" stroke="#969696" stroke-width="0.7"/>
<line x1="418.96" y1="323.40" x2="420.76" y2="323.40" stroke="#969696" stroke-width="0.7"/>
<rect x="412.86" y="311.11" width="4.70" height="4.89" fill="#000"/>
<path d="M412.86 311.31L415.21 309.81L417.56 311.31Z" fill="#000"/>
<rect x="417.91" y="300.64" width="3.90" height="15.36" fill="#2d2d2d"/>
<path d="M417.91 300.84L419.86 299.24L421.81 300.84Z" fill="#2d2d2d"/>
<line x1="417.31" y1="378.80" x2="417.31" y2="381.40" stroke="#000" stroke-width="1.2"/>
<text x="417.31" y="389.90" font-size="8.9" font-weight="bold" text-anchor="middle" textLength="9.20" lengthAdjust="spacingAndGlyphs" transform="rotate(0.03 417.31 389.90)" stroke="#000" stroke-width="0.15">10</text>
<line x1="425.90" y1="284.00" x2="425.90" y2="314.60" stroke="#969696" stroke-width="0.7"/>
<line x1="425.00" y1="284.00" x2="426.80" y2="284.00" stroke="#969696" stroke-width="0.7"/>
<line x1="425.90" y1="316.00" x2="425.90" y2="349.70" stroke="#969696" stroke-width="0.7"/>
<line x1="425.00" y1="349.70" x2="426.80" y2="349.70" stroke="#969696" stroke-width="0.7"/>
<line x1="430.55" y1="285.50" x2="430.55" y2="311.11" stroke="#969696" stroke-width="0.7"/>
<line x1="429.65" y1="285.50" x2="431.45" y2="285.50" stroke="#969696" stroke-width="0.7"/>
<line x1="430.55" y1="316.00" x2="430.55" y2="337.00" stroke="#969696" stroke-width="0.7"/>
<line x1="429.65" y1="337.00" x2="431.45" y2="337.00" stroke="#969696" stroke-width="0.7"/>
<rect x="423.55" y="314.60" width="4.70" height="1.40" fill="#000"/>
<path d="M423.55 314.80L425.90 313.30L428.25 314.80Z" fill="#000"/>
<rect x="428.60" y="311.11" width="3.90" height="4.89" fill="#2d2d2d"/>
<path d="M428.60 311.31L430.55 309.71L432.50 311.31Z" fill="#2d2d2d"/>
<line x1="428.00" y1="378.80" x2="428.00" y2="381.40" stroke="#000" stroke-width="1.2"/>
<text x="428.00" y="389.90" font-size="8.9" font-weight="bold" text-anchor="middle" textLength="9.20" lengthAdjust="spacingAndGlyphs" transform="rotate(0.03 428.00 389.90)" stroke="#000" stroke-width="0.15">11</text>
<line x1="436.59" y1="307.80" x2="436.59" y2="313.91" stroke="#969696" stroke-width="0.7"/>
<line x1="435.69" y1="307.80" x2="437.49" y2="307.80" stroke="#969696" stroke-width="0.7"/>
<line x1="436.59" y1="316.00" x2="436.59" y2="322.40" stroke="#969696" stroke-width="0.7"/>
<line x1="435.69" y1="322.40" x2="437.49" y2="322.40" stroke="#969696" stroke-width="0.7"/>
<line x1="441.24" y1="305.80" x2="441.24" y2="313.91" stroke="#969696" stroke-width="0.7"/>
<line x1="440.34" y1="305.80" x2="442.14" y2="305.80" stroke="#969696" stroke-width="0.7"/>
<line x1="441.24" y1="316.00" x2="441.24" y2="323.40" stroke="#969696" stroke-width="0.7"/>
<line x1="440.34" y1="323.40" x2="442.14" y2="323.40" stroke="#969696" stroke-width="0.7"/>
<rect x="434.24" y="313.91" width="4.70" height="2.09" fill="#000"/>
<path d="M434.24 314.11L436.59 312.61L438.94 314.11Z" fill="#000"/>
<rect x="439.29" y="313.91" width="3.90" height="2.09" fill="#2d2d2d"/>
<path d="M439.29 314.11L441.24 312.51L443.19 314.11Z" fill="#2d2d2d"/>
<line x1="438.69" y1="378.80" x2="438.69" y2="381.40" stroke="#000" stroke-width="1.2"/>
<text x="438.69" y="389.90" font-size="8.9" font-weight="bold" text-anchor="middle" textLength="9.20" lengthAdjust="spacingAndGlyphs" transform="rotate(0.03 438.69 389.90)" stroke="#000" stroke-width="0.15">12</text>
<line x1="447.27" y1="297.70" x2="447.27" y2="316.00" stroke="#969696" stroke-width="0.7"/>
<line x1="446.37" y1="297.70" x2="448.17" y2="297.70" stroke="#969696" stroke-width="0.7"/>
<line x1="447.27" y1="335.54" x2="447.27" y2="373.30" stroke="#969696" stroke-width="0.7"/>
<line x1="446.37" y1="373.30" x2="448.17" y2="373.30" stroke="#969696" stroke-width="0.7"/>
<rect x="444.92" y="316.00" width="4.70" height="19.54" fill="#000"/>
<path d="M450.42 313.60L451.92 312.10L453.42 313.60L451.92 315.10Z" fill="#777"/>
<line x1="449.37" y1="378.80" x2="449.37" y2="381.40" stroke="#000" stroke-width="1.2"/>
<text x="449.37" y="389.90" font-size="8.9" font-weight="bold" text-anchor="middle" textLength="9.20" lengthAdjust="spacingAndGlyphs" transform="rotate(0.03 449.37 389.90)" stroke="#000" stroke-width="0.15">13</text>
<line x1="457.96" y1="274.40" x2="457.96" y2="311.11" stroke="#969696" stroke-width="0.7"/>
<line x1="457.06" y1="274.40" x2="458.86" y2="274.40" stroke="#969696" stroke-width="0.7"/>
<line x1="457.96" y1="316.00" x2="457.96" y2="349.70" stroke="#969696" stroke-width="0.7"/>
<line x1="457.06" y1="349.70" x2="458.86" y2="349.70" stroke="#969696" stroke-width="0.7"/>
<rect x="455.61" y="311.11" width="4.70" height="4.89" fill="#000"/>
<path d="M455.61 311.31L457.96 309.81L460.31 311.31Z" fill="#000"/>
<rect x="460.66" y="313.91" width="3.90" height="2.09" fill="#2d2d2d"/>
<path d="M460.66 314.11L462.61 312.51L464.56 314.11Z" fill="#2d2d2d"/>
<line x1="460.06" y1="378.80" x2="460.06" y2="381.40" stroke="#000" stroke-width="1.2"/>
<text x="460.06" y="389.90" font-size="8.9" font-weight="bold" text-anchor="middle" textLength="9.20" lengthAdjust="spacingAndGlyphs" transform="rotate(0.03 460.06 389.90)" stroke="#000" stroke-width="0.15">14</text>
<text x="363.00" y="401.40" font-size="7.6" font-weight="bold" textLength="55.00" lengthAdjust="spacingAndGlyphs" transform="rotate(0.03 363.00 401.40)">Patient number</text>
<rect x="316.30" y="412.50" width="72.50" height="37.00" fill="#fff" stroke="#222" stroke-width="1"/>
<text x="324.30" y="425.70" font-size="10" font-weight="bold" textLength="12.20" lengthAdjust="spacingAndGlyphs" transform="rotate(0.03 324.30 425.70)">Ab</text>
<rect x="323.00" y="428.80" width="12.00" height="6.80" fill="#000"/>
<rect x="323.00" y="439.50" width="12.00" height="6.80" fill="#2d2d2d"/>
<text x="338.80" y="434.80" font-size="6.4" textLength="29.30" lengthAdjust="spacingAndGlyphs" transform="rotate(0.03 338.80 434.80)" fill="#111">Rituximab</text>
<text x="338.80" y="445.30" font-size="6.4" textLength="20.80" lengthAdjust="spacingAndGlyphs" transform="rotate(0.03 338.80 445.30)" fill="#111">isotype</text>
<text x="316.80" y="462.00" font-size="7" textLength="97.00" lengthAdjust="spacingAndGlyphs" transform="rotate(0.03 316.80 462.00)" fill="#111">Error bars show mean ± 1.0 SE</text>
<text x="316.80" y="473.20" font-size="7" textLength="54.00" lengthAdjust="spacingAndGlyphs" transform="rotate(0.03 316.80 473.20)" fill="#111">Bars show means</text>
<text x="396.30" y="420.40" font-size="6.8" font-weight="bold" textLength="78.00" lengthAdjust="spacingAndGlyphs" transform="rotate(0.03 396.30 420.40)" stroke="#000" stroke-width="0.15">ΔCD20 expression (MFI)</text>
<line x1="396.30" y1="421.40" x2="474.30" y2="421.40" stroke="#000" stroke-width="0.7"/>
<text x="396.30" y="428.70" font-size="6.8" font-weight="bold" textLength="33.00" lengthAdjust="spacingAndGlyphs" transform="rotate(0.03 396.30 428.70)" stroke="#000" stroke-width="0.15">+ CD20 up</text>
<text x="396.30" y="436.90" font-size="6.8" font-weight="bold" textLength="58.80" lengthAdjust="spacingAndGlyphs" transform="rotate(0.03 396.30 436.90)" stroke="#000" stroke-width="0.15">0 CD20 No change</text>
<text x="396.30" y="445.00" font-size="6.8" font-weight="bold" textLength="40.50" lengthAdjust="spacingAndGlyphs" transform="rotate(0.03 396.30 445.00)" stroke="#000" stroke-width="0.15">–CD20 down</text>
<rect x="0.00" y="0.00" width="520.00" height="1.20" fill="#5a5a5a"/>
<rect x="0.00" y="0.00" width="1.50" height="495.00" fill="#666"/>
<rect x="518.00" y="0.00" width="2.00" height="495.00" fill="#8a8a8a"/>
<rect x="0.00" y="492.80" width="520.00" height="2.20" fill="#8a8a8a"/>
</svg>
</body></html>
